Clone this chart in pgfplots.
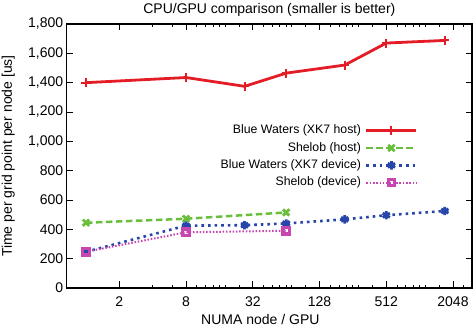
\documentclass[border=0pt]{standalone}
\usepackage{fontspec}
\setmainfont{Liberation Sans}
\usepackage{pgfplots}
\pgfplotsset{compat=1.18}
\definecolor{cred}{RGB}{228,28,38}
\definecolor{cgreen}{RGB}{105,190,60}
\definecolor{cblue}{RGB}{40,70,170}
\definecolor{cmag}{RGB}{200,70,175}
\begin{document}
\begin{tikzpicture}
\useasboundingbox (-66.7pt,-48pt) rectangle (407.3pt,288pt);
\begin{axis}[
  at={(0,0)}, anchor=south west,
  scale only axis, width=405.3pt, height=264pt,
  xmode=log, log basis x=2,
  xmin=0.67, xmax=3040, ymin=0, ymax=1800,
  xtick={2,8,32,128,512,2048},
  xticklabels={2,8,32,128,512,2048},
  extra x ticks={4,6,10,12,14,16,18,24,40,48,56,64,72,96,160,192,224,256,288,384,640,768,896,1024,1152,1536,2560},
  extra x tick labels={},
  extra x tick style={major tick length=3.3pt},
  ytick={0,200,...,1800},
  scaled y ticks=false,
  /pgf/number format/assume math mode=true,
  /pgf/number format/1000 sep={,},
  font=\fontsize{14}{16}\selectfont,
  tick label style={font=\fontsize{14}{16}\selectfont},
  xticklabel style={anchor=base, yshift=-18.7pt},
  axis line style={line width=1.1pt},
  every tick/.style={black, line width=0.9pt},
  major tick length=6.5pt,
  tick align=inside, tick pos=both,
  title={CPU/GPU comparison (smaller is better)},
  title style={at={(0.5,1)}, anchor=base, yshift=4.7pt},
  xlabel={NUMA node / GPU},
  xlabel style={at={(0.5,0)}, anchor=base, yshift=-37pt, xshift=-9pt},
  ylabel={Time per grid point per node [us]},
  ylabel style={at={(axis description cs:-0.135,0.5)}, anchor=base},
  legend cell align=right,
  legend plot pos=right,
  legend style={draw=none, fill=none, at={(0.8668,0.623)}, anchor=north east,
    inner sep=0pt, row sep=3.3pt, column sep=4pt,
    font=\fontsize{12.3}{14}\selectfont,
    nodes={inner sep=0pt, text height=10pt, text depth=4pt}},
  legend image code/.code={\draw[mark repeat=2,mark phase=2,#1] plot coordinates {(0pt,0pt) (25pt,0pt) (50pt,0pt)};},
]
\addplot[cred, line width=2.8pt, mark=+, mark size=4.5pt, mark options={solid, line width=2pt}]
  coordinates {(1,1400) (8,1435) (27,1375) (64,1465) (216,1520) (512,1670) (1728,1688)};
\addlegendentry{Blue Waters (XK7 host)}
\addplot[cgreen, line width=2.5pt, dash pattern=on 6.5pt off 3.5pt, mark=x, mark size=4.5pt, mark options={solid, line width=2.8pt}]
  coordinates {(1,445) (8,472) (64,515)};
\addlegendentry{Shelob (host)}
\addplot[cblue, line width=2.6pt, dash pattern=on 2.6pt off 4pt, mark=asterisk, mark size=4.2pt, mark options={solid, line width=2.8pt}]
  coordinates {(1,247) (8,425) (27,428) (64,440) (216,468) (512,496) (1728,525)};
\addlegendentry{Blue Waters (XK7 device)}
\addplot[cmag, line width=2pt, dash pattern=on 1.5pt off 1.8pt, mark=square, mark size=3.2pt, mark options={solid, line width=3.2pt}]
  coordinates {(1,247) (8,380) (64,390)};
\addlegendentry{Shelob (device)}
\end{axis}
\end{tikzpicture}
\end{document}
